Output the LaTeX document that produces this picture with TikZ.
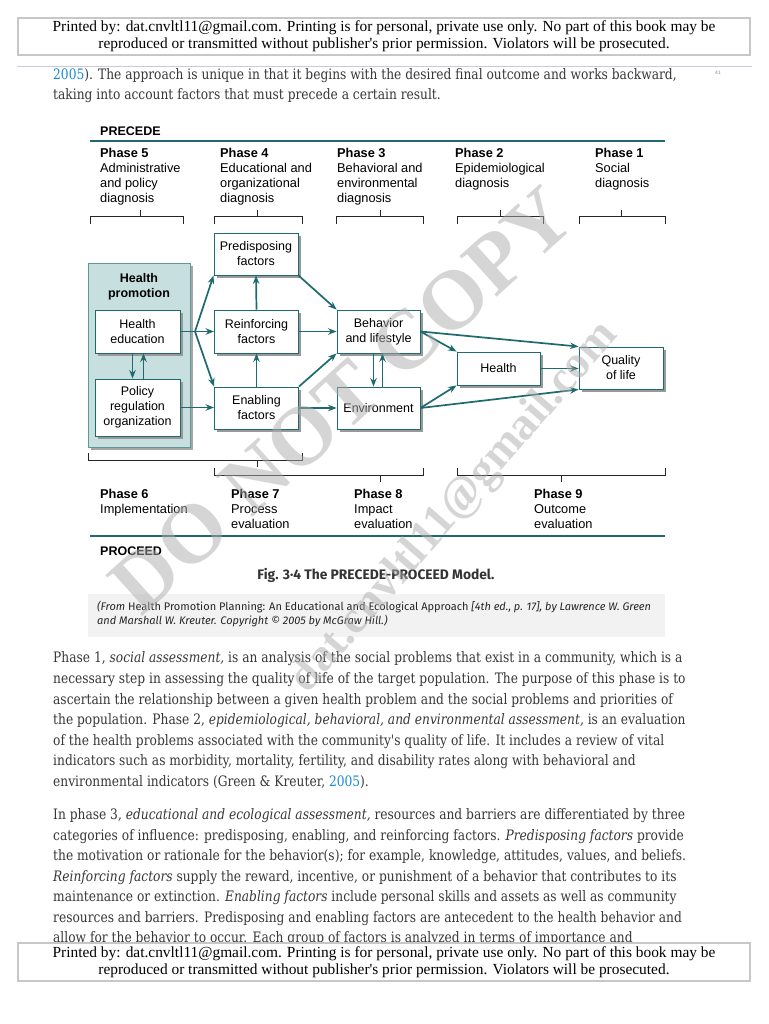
\documentclass[tikz,border=0pt]{standalone}
\usepackage{fontspec}
\usepackage{xcolor}
\setsansfont{Liberation Sans}
\newfontfamily\prtfont{Liberation Serif}
\newfontfamily\bodyfont{DejaVu Serif}[FakeStretch=0.85]
\newfontfamily\capfont{Fira Sans}
\usepackage{tikz}
\usetikzlibrary{arrows.meta,shadows}
\definecolor{tealline}{HTML}{1E6A6E}
\definecolor{hpfill}{HTML}{C8DFE0}
\definecolor{linkblue}{HTML}{1A8AD4}
\definecolor{bodytext}{HTML}{383838}
\definecolor{notegray}{HTML}{F2F2F2}
\definecolor{rulegray}{HTML}{C9CBDD}

\begin{document}
\begin{tikzpicture}[x=1pt,y=-1pt,
box/.style={draw=tealline,line width=0.9pt,fill=white,align=center,inner sep=0pt,
  font=\sffamily\fontsize{12.5}{15}\selectfont,
  drop shadow={shadow xshift=2.5pt,shadow yshift=-2.5pt,fill=black!40,opacity=1}},
arr/.style={draw=tealline,line width=1.7pt,-{Stealth[length=8.5pt,width=6.5pt]}},
phase/.style={font=\sffamily\fontsize{12.8}{15}\selectfont,align=left,anchor=north west,inner sep=0pt},
head/.style={font=\sffamily\bfseries\fontsize{12.5}{15}\selectfont,anchor=west,inner sep=0pt},
body/.style={font=\bodyfont\fontsize{14.4}{17}\selectfont,text=bodytext,anchor=west,inner sep=0pt},
prt/.style={font=\prtfont\fontsize{15.4}{17}\selectfont,align=center,draw=black!22,line width=1.6pt,
  fill=white,minimum width=732,inner sep=0pt},
brk/.style={black!85,line width=1pt},
wmark/.style={text=black!32,opacity=.5}]
\useasboundingbox[fill=white](0,0)rectangle(768,1024);
\node[prt,minimum height=37](hdr)at(384,36.5){Printed by: dat.cnvltl11@gmail.com. Printing is for personal, private use only. No part of this book may be\\reproduced or transmitted without publisher's prior permission. Violators will be prosecuted.};
\draw[rulegray,line width=0.8pt](17,66)--(752,66);
\node[font=\sffamily\fontsize{5}{6}\selectfont,text=black!45](pg)at(718,73){41};
\node[body](top1)at(53,76){{\color{linkblue}2005}). The approach is unique in that it begins with the desired final outcome and works backward,};
\node[body](top2)at(53,96){taking into account factors that must precede a certain result.};

\node[head](precede)at(100,131){PRECEDE};
\draw[tealline,line width=2.2pt](90,141)--(665,141);
\node[phase](ph5)at(100,148.5){\textbf{Phase 5}\\Administrative\\and policy\\diagnosis};
\node[phase](ph4)at(220,148.5){\textbf{Phase 4}\\Educational and\\organizational\\diagnosis};
\node[phase](ph3)at(337,148.5){\textbf{Phase 3}\\Behavioral and\\environmental\\diagnosis};
\node[phase](ph2)at(455,148.5){\textbf{Phase 2}\\Epidemiological\\diagnosis};
\node[phase](ph1)at(595,148.5){\textbf{Phase 1}\\Social\\diagnosis};
\foreach \a/\b/\m in {90/183/140,214/302/257,336/423/380,457/543/500,579/665/621}
  \draw[brk](\a,224)--(\a,217)--(\b,217)--(\b,224)(\m,217)--(\m,210);

\node[draw=tealline!70,fill=hpfill,line width=0.9pt,minimum width=102,minimum height=184,
  drop shadow={shadow xshift=2.5pt,shadow yshift=-2.5pt,fill=black!35,opacity=1}](hpro)at(139,355){};
\node[font=\sffamily\bfseries\fontsize{12.5}{15}\selectfont,align=center](hptitle)at(139,287){Health\\promotion};
\node[box,minimum width=85,minimum height=43](hedu)at(137.5,331.5){Health\\education};
\node[box,minimum width=85,minimum height=57](pol)at(137.5,407.5){Policy\\regulation\\organization};
\node[box,minimum width=84,minimum height=42](pred)at(256,254){Predisposing\\factors};
\node[box,minimum width=84,minimum height=43](reinf)at(256.5,331.5){Reinforcing\\factors};
\node[box,minimum width=84,minimum height=42](enab)at(256.5,408){Enabling\\factors};
\node[box,minimum width=83,minimum height=43](behav)at(378.5,331.5){Behavior\\and lifestyle};
\node[box,minimum width=83,minimum height=42](envir)at(378.5,408){Environment};
\node[box,minimum width=83,minimum height=33](hlth)at(498.5,368.5){Health};
\node[box,minimum width=84,minimum height=42](qual)at(621,368){Quality\\of life};

\coordinate(jn)at(195,331.5);
\draw[tealline,line width=1.7pt](hedu.east)--(jn);
\draw[arr](jn)--(pred.south west);
\draw[arr](jn)--(reinf.west);
\draw[arr](jn)--(enab.north west);
\draw[arr](pol.east)--(pol.east-|enab.west);
\draw[arr]([xshift=-5pt]hedu.south)--([xshift=-5pt]pol.north);
\draw[arr]([xshift=6pt]pol.north)--([xshift=6pt]hedu.south);
\draw[arr](reinf.north)--(pred.south);
\draw[arr](enab.north)--(reinf.south);
\draw[arr](pred.south east)--(behav.north west);
\draw[arr](reinf.east)--(behav.west);
\draw[arr](enab.north east)--(behav.south west);
\draw[arr](enab.east)--(envir.west);
\draw[arr]([xshift=-5pt]behav.south)--([xshift=-5pt]envir.north);
\draw[arr]([xshift=4pt]envir.north)--([xshift=4pt]behav.south);
\draw[arr](behav.east)--(hlth.north west);
\draw[arr](behav.east)--(qual.north west);
\draw[arr](hlth.east)--(hlth.east-|qual.west);
\draw[arr](envir.east)--(hlth.south west);
\draw[arr](envir.east)--(qual.south west);

\foreach \a/\b/\m/\y in {88/302/257/460,214/423/380/475,457/665/561/475}
  \draw[brk](\a,\y-7)--(\a,\y)--(\b,\y)--(\b,\y-7)(\m,\y)--(\m,\y+7);
\node[phase](ph6)at(100,489.5){\textbf{Phase 6}\\Implementation};
\node[phase](ph7)at(231,489.5){\textbf{Phase 7}\\Process\\evaluation};
\node[phase](ph8)at(354,489.5){\textbf{Phase 8}\\Impact\\evaluation};
\node[phase](ph9)at(534,489.5){\textbf{Phase 9}\\Outcome\\evaluation};
\draw[tealline,line width=2.2pt](90,536)--(665,536);
\node[head](proceed)at(100,551){PROCEED};

\node[font=\capfont\bfseries\fontsize{13.8}{17}\selectfont,text=black!80](cap)at(376,575){Fig. 3·4 The PRECEDE-PROCEED Model.};
\node[fill=notegray,minimum width=577,minimum height=43,inner sep=0pt](notebox)at(376.5,615.5){};
\node[font=\capfont\fontsize{11}{12}\selectfont,text=black!85,anchor=west,inner sep=0pt](note1)at(97,607){{\itshape (From} Health Promotion Planning: An Educational and Ecological Approach {\itshape [4th ed., p. 17], by Lawrence W. Green}};
\node[font=\capfont\itshape\fontsize{11}{12}\selectfont,text=black!85,anchor=west,inner sep=0pt](note2)at(97,621){and Marshall W. Kreuter. Copyright © 2005 by McGraw Hill.)};

\foreach \t [count=\i] in {{Phase 1, \textit{social assessment,} is an analysis of the social problems that exist in a community, which is a},
  {necessary step in assessing the quality of life of the target population. The purpose of this phase is to},
  {ascertain the relationship between a given health problem and the social problems and priorities of},
  {the population. Phase 2, \textit{epidemiological, behavioral, and environmental assessment,} is an evaluation},
  {of the health problems associated with the community's quality of life. It includes a review of vital},
  {indicators such as morbidity, mortality, fertility, and disability rates along with behavioral and},
  {environmental indicators (Green \& Kreuter, {\color{linkblue}2005}).}}
  \node[body](pa\i)at(53,659+20.6*\i-20.6){\t};
\foreach \t [count=\i] in {{In phase 3, \textit{educational and ecological assessment,} resources and barriers are differentiated by three},
  {categories of influence: predisposing, enabling, and reinforcing factors. \textit{Predisposing factors} provide},
  {the motivation or rationale for the behavior(s); for example, knowledge, attitudes, values, and beliefs.},
  {\textit{Reinforcing factors} supply the reward, incentive, or punishment of a behavior that contributes to its},
  {maintenance or extinction. \textit{Enabling factors} include personal skills and assets as well as community},
  {resources and barriers. Predisposing and enabling factors are antecedent to the health behavior and},
  {allow for the behavior to occur. Each group of factors is analyzed in terms of importance and}}
  \node[body](pb\i)at(53,816+20.5*\i-20.5){\t};

\node[wmark,font=\prtfont\bfseries\fontsize{84}{84}\selectfont,rotate=42](wm1)at(342,400){DO NOT COPY};
\node[wmark,font=\prtfont\bfseries\fontsize{46}{46}\selectfont,rotate=49](wm2)at(455,508){dat.cnvltl11@gmail.com};

\node[prt,minimum height=38](ftr)at(384,962){Printed by: dat.cnvltl11@gmail.com. Printing is for personal, private use only. No part of this book may be\\reproduced or transmitted without publisher's prior permission. Violators will be prosecuted.};
\end{tikzpicture}
\end{document}
